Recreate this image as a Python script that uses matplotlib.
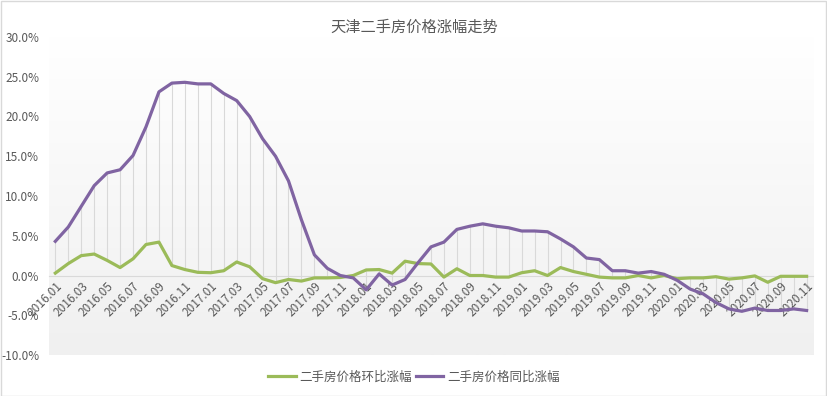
import matplotlib
matplotlib.use("Agg")
import matplotlib.pyplot as plt
import numpy as np

plt.rcParams['font.family'] = ['Noto Sans CJK SC', 'DejaVu Sans']

# monthly, 2016.01 - 2020.11
months = ["%d.%02d" % (y, m) for y in range(2016, 2021) for m in range(1, 13)][:59]

# 二手房价格环比涨幅 (%)
mom = [0.3, 1.5, 2.5, 2.7, 1.9, 1.0, 2.1, 3.9, 4.2, 1.25,
       0.75, 0.4, 0.35, 0.6, 1.7, 1.1, -0.4, -0.9, -0.5, -0.7,
       -0.3, -0.3, -0.25, 0.0, 0.7, 0.75, 0.3, 1.8, 1.5, 1.45,
       -0.2, 0.85, 0.0, 0.0, -0.2, -0.2, 0.35, 0.6, 0.0, 1.0,
       0.5, 0.15, -0.2, -0.3, -0.3, 0.0, -0.3, 0.0, -0.4, -0.3,
       -0.3, -0.15, -0.45, -0.3, -0.05, -0.85, -0.1, -0.1, -0.1]

# 二手房价格同比涨幅 (%)
yoy = [4.3, 6.1, 8.7, 11.3, 12.9, 13.3, 15.1, 18.7, 23.1, 24.2,
       24.3, 24.1, 24.1, 22.9, 22.0, 20.0, 17.2, 15.0, 11.9, 7.0,
       2.6, 0.9, 0.0, -0.3, -1.8, 0.2, -1.2, -0.5, 1.6, 3.6,
       4.2, 5.8, 6.2, 6.5, 6.2, 6.0, 5.6, 5.6, 5.5, 4.6,
       3.6, 2.2, 2.0, 0.6, 0.6, 0.3, 0.5, 0.15, -0.6, -1.7,
       -2.3, -3.4, -4.2, -4.5, -4.1, -4.4, -4.4, -4.2, -4.4]

x = np.arange(len(months))

fig = plt.figure(figsize=(8.28, 3.96), dpi=100)
ax = fig.add_axes([0.059, 0.1035, 0.923, 0.8031])

# plot area gradient
grad = np.linspace(0, 1, 256).reshape(-1, 1)
ax.imshow(grad, extent=[-0.5, len(x) - 0.5, -10, 30], aspect='auto',
          cmap=matplotlib.colors.LinearSegmentedColormap.from_list('g', ['#f0f0f0', '#ffffff']),
          origin='lower', zorder=0)

# high-low lines
ax.vlines(x, np.minimum(mom, yoy), np.maximum(mom, yoy), color='#d9d9d9', lw=0.8, zorder=1)

ax.plot(x, mom, color='#9bbb59', lw=2.3, label='二手房价格环比涨幅', zorder=3)
ax.plot(x, yoy, color='#8064a2', lw=2.3, label='二手房价格同比涨幅', zorder=3)

for s in ['top', 'right', 'left']:
    ax.spines[s].set_visible(False)
ax.spines['bottom'].set_position(('data', 0))
ax.spines['bottom'].set_color('#d9d9d9')
ax.spines['bottom'].set_zorder(2)

ax.set_xlim(-0.5, len(x) - 0.5)
ax.set_ylim(-10, 30)
ax.set_yticks(np.arange(-10, 31, 5))
ax.set_yticklabels(["%.1f%%" % v for v in np.arange(-10, 31, 5)])

ax.set_xticks(x[::2])
ax.set_xticklabels(months[::2], rotation=45, ha='right', rotation_mode='anchor')
for t in ax.get_xticklabels():
    t.set_zorder(5)

ax.tick_params(axis='both', length=0, colors='#595959', labelsize=8.5)
ax.tick_params(axis='x', pad=3)
ax.tick_params(axis='y', pad=7)

fig.text(0.5, 0.932, '天津二手房价格涨幅走势', ha='center', va='center',
         fontsize=11, color='#595959')

fig.legend(loc='center', bbox_to_anchor=(0.5, 0.048), ncol=2, frameon=False,
           fontsize=9, labelcolor='#595959', handlelength=2.2,
           columnspacing=0.3, handletextpad=0.3)

fig.patches.append(plt.Rectangle((0.001, 0.001), 0.997, 0.996, transform=fig.transFigure,
                                 fill=False, edgecolor='#d9d9d9', lw=1))

fig.savefig('out.png', dpi=100)
